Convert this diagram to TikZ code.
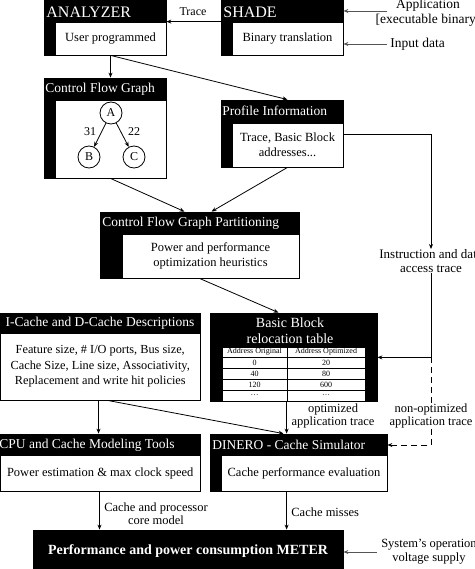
\documentclass[tikz,border=0pt]{standalone}
\usepackage{fontspec}
\setmainfont{Liberation Serif}
\usetikzlibrary{arrows.meta}
\definecolor{feedgray}{RGB}{85,85,85}

\begin{document}
\begin{tikzpicture}[x=1pt, y=-1pt, line width=0.8pt,
    >={Stealth[length=5pt, width=4pt]},
    panel/.style={draw, fill=black, inner sep=0pt},
    panelbody/.style={draw, fill=white, inner sep=0pt, align=center,
                      font=\fontsize{12.5}{15}\selectfont},
    paneltitle/.style={text=white, inner sep=0pt, anchor=west,
                       font=\fontsize{13.5}{15}\selectfont},
    lbl/.style={inner sep=0pt, align=center, font=\fontsize{12.5}{13.5}\selectfont},
    cell/.style={draw, fill=white, inner sep=0pt, minimum height=11pt,
                 font=\fontsize{8}{9}\selectfont},
    vertex/.style={draw, circle, fill=white, minimum size=22pt, inner sep=0pt,
                   font=\fontsize{12}{13}\selectfont},
    feed/.style={->, draw=feedgray},
    longdash/.style={dash pattern=on 6pt off 4pt}]
  \useasboundingbox (0,0) rectangle (474,569);
  \clip (0,0) rectangle (474,569);

  % ANALYZER
  \node[panel, minimum width=122pt, minimum height=57pt] (analyzer) at (105,26.5) {};
  \node[panelbody, minimum width=111pt, minimum height=33pt] (analyzerbody)
        at (110.5,38.5) {User programmed};
  \node[paneltitle, font=\fontsize{16}{18}\selectfont] (analyzertitle) at (46,12) {ANALYZER};
  % SHADE
  \node[panel, minimum width=122pt, minimum height=57pt] (shade) at (282,26.5) {};
  \node[panelbody, minimum width=111pt, minimum height=33pt] (shadebody)
        at (287.5,38.5) {Binary translation};
  \node[paneltitle, font=\fontsize{16}{18}\selectfont] (shadetitle) at (223,12) {SHADE};
  % Control flow graph
  \node[panel, minimum width=122pt, minimum height=100pt] (cfg) at (105,128) {};
  \node[panelbody, minimum width=111pt, minimum height=78pt] (cfgbody) at (110.5,139) {};
  \node[paneltitle] (cfgtitle) at (45,89) {Control Flow Graph};
  \node[vertex] (va) at (111,113) {A};
  \node[vertex] (vb) at (89,157) {B};
  \node[vertex] (vc) at (134,157) {C};
  \node[lbl, font=\fontsize{12}{13}\selectfont] (w31) at (90,132) {31};
  \node[lbl, font=\fontsize{12}{13}\selectfont] (w22) at (134,132) {22};
  \draw[->] (va) -- (vb);
  \draw[->] (va) -- (vc);
  % Profile information
  \node[panel, minimum width=122pt, minimum height=67pt] (prof) at (282,133.5) {};
  \node[panelbody, minimum width=111pt, minimum height=44pt] (profbody)
        at (287.5,145) {Trace, Basic Block\\addresses...};
  \node[paneltitle] (proftitle) at (222,111) {Profile Information};
  % Partitioning
  \node[panel, minimum width=199pt, minimum height=66pt] (cfgp) at (199.5,245) {};
  \node[panelbody, minimum width=177pt, minimum height=44pt] (cfgpbody)
        at (210.5,256) {Power and performance\\optimization heuristics};
  \node[paneltitle] (cfgptitle) at (102,223) {Control Flow Graph Partitioning};
  % Relocation table
  \node[panel, minimum width=167pt, minimum height=88pt] (bbt) at (293.5,357) {};
  \node[lbl, text=white, font=\fontsize{14}{15.5}\selectfont] (bbttitle)
        at (290,330.5) {Basic Block\\relocation table};
  \node[cell, minimum width=65pt, minimum height=10pt] (orig0) at (254.5,352) {Address Original};
  \node[cell, minimum width=78pt, minimum height=10pt] (opt0) at (326,352) {Address Optimized};
  \foreach \a/\b [count=\r] in {0/20, 40/80, 120/600, {\ldots}/{\ldots}} {
    \node[cell, minimum width=65pt] (orig\r) at (254.5,351.5+11*\r) {\a};
    \node[cell, minimum width=78pt] (opt\r) at (326,351.5+11*\r) {\b};
  }
  % Cache descriptions
  \node[panel, minimum width=201pt, minimum height=87pt] (icache) at (99.5,356.5) {};
  \node[panelbody, minimum width=199.5pt, minimum height=67pt,
        font=\fontsize{12.3}{15.5}\selectfont] (icachebody) at (100.25,366.5)
        {Feature size, \# I/O ports, Bus size,\\Cache Size, Line size, Associativity,\\
         Replacement and write hit policies};
  \node[paneltitle, anchor=center] (icachetitle) at (100,323) {I-Cache and D-Cache Descriptions};
  % CPU modeling
  \node[panel, minimum width=201pt, minimum height=57pt] (cpu) at (99.5,462.5) {};
  \node[panelbody, minimum width=199.5pt, minimum height=36pt] (cpubody)
        at (100.25,473) {Power estimation \& max clock speed};
  \node[paneltitle] (cputitle) at (-1,445) {CPU and Cache Modeling Tools};
  % DINERO
  \node[panel, minimum width=177pt, minimum height=57pt] (dinero) at (298.5,462.5) {};
  \node[panelbody, minimum width=166pt, minimum height=36pt] (dinerobody)
        at (304,473) {Cache performance evaluation};
  \node[paneltitle] (dinerotitle) at (212,445) {DINERO - Cache Simulator};
  % METER
  \node[panel, minimum width=310pt, minimum height=42pt, text=white,
        font=\bfseries\fontsize{14}{16}\selectfont] (meter) at (188,551)
        {Performance and power consumption METER};

  % labels
  \node[lbl, font=\fontsize{12}{13}\selectfont] (tracelbl) at (193,12) {Trace};
  \node[lbl, font=\fontsize{13.5}{15}\selectfont] (app) at (428,12.5)
        {Application\\{[}executable binary{]}};
  \node[lbl, anchor=west, font=\fontsize{13.5}{15}\selectfont] (datalbl) at (390,44) {Input data};
  \node[lbl, font=\fontsize{13}{14}\selectfont] (instr) at (431,261)
        {Instruction and data\\access trace};
  \node[lbl] (nonopt) at (431,416) {non-optimized\\application trace};
  \node[lbl] (optlbl) at (333,416) {optimized\\application trace};
  \node[lbl] (corelbl) at (156,513.5) {Cache and processor\\core model};
  \node[lbl, anchor=west] (misslbl) at (291,512) {Cache misses};
  \node[lbl] (volt) at (429,551.5) {System's operation\\voltage supply};
  \coordinate (appin) at (387,11);
  \coordinate (datain) at (387,44);
  \coordinate (voltin) at (377,552);
  \coordinate (split) at (instr.south |- opt0.south);

  % connectors
  \draw[->] (shade.west |- shadebody.north) -- (analyzer.east |- analyzerbody.north);
  \draw[feed] (appin) -- (shade.east |- appin);
  \draw[feed] (datain) -- (shade.east |- datain);
  \draw[->] (analyzerbody.south) -- (analyzerbody.south |- cfg.north);
  \draw[->] (analyzerbody.south) -- (profbody.north |- prof.north);
  \draw[->] (cfgbody.south) -- ([xshift=-15pt]cfgp.north);
  \draw[->] (profbody.south) -- ([xshift=12pt]cfgp.north);
  \draw[->] ([yshift=11pt]profbody.east) -| (instr.north);
  \draw[->] (instr.south) |- (bbt.east |- split);
  \draw[longdash] (split) -- (split |- nonopt.north);
  \draw[->, longdash] (split |- nonopt.south) |- (dinero.east |- dinerotitle);
  \draw[->] (cfgp.south) -- ([xshift=-15pt]bbt.north);
  \draw[->] (opt4.south west) -- (opt4.south west |- dinero.north);
  \draw[->] ([xshift=8pt]icache.south) -- ([xshift=-15pt]dinero.north);
  \draw[->] ([xshift=-1pt]icache.south) -- ([xshift=-1pt]icache.south |- cpu.north);
  \draw[->] (cpu.south) -- (cpu.south |- meter.north);
  \draw[->] (opt4.south west |- dinero.south) -- (opt4.south west |- meter.north);
  \draw[feed] (voltin) -- (meter.east |- voltin);
\end{tikzpicture}
\end{document}
